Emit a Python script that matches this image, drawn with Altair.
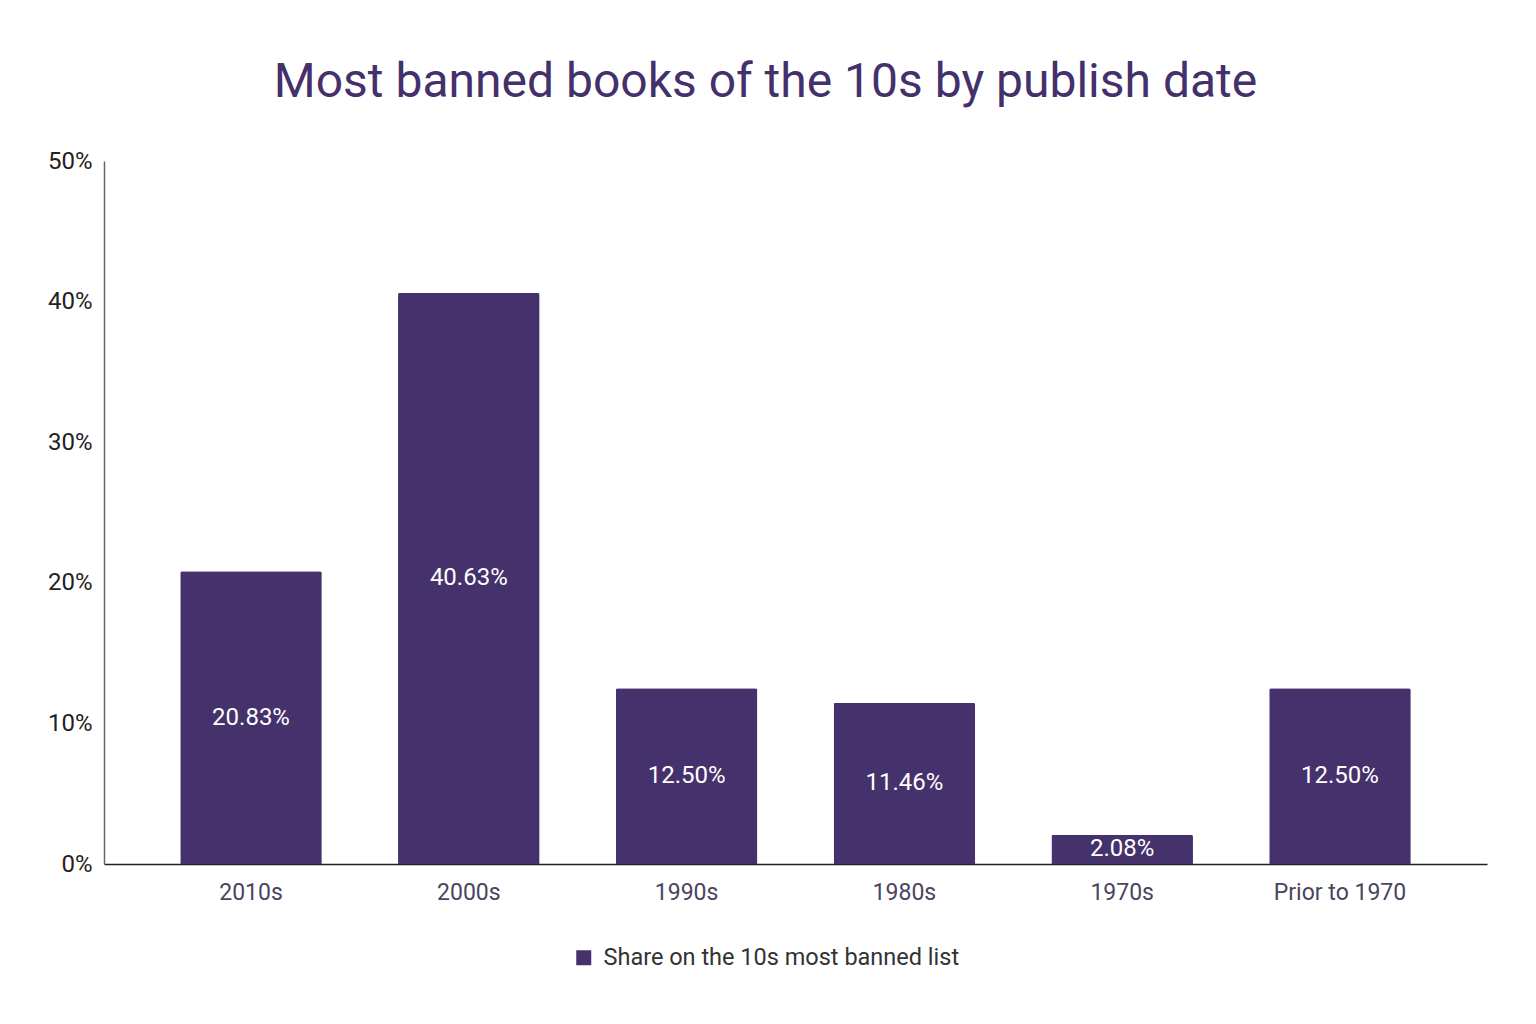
import altair as alt
import pandas as pd

categories = ["2010s", "2000s", "1990s", "1980s", "1970s", "Prior to 1970"]
shares = [0.2083, 0.4063, 0.1250, 0.1146, 0.0208, 0.1250]
labels = ["20.83%", "40.63%", "12.50%", "11.46%", "2.08%", "12.50%"]
series_name = "Share on the 10s most banned list"
y_ticks = [0, 0.1, 0.2, 0.3, 0.4, 0.5]

df = pd.DataFrame({
    "period": categories,
    "share": shares,
    "label": labels,
    "series": [series_name] * len(categories),
})
df["mid"] = df["share"] / 2

PURPLE = "#45316b"
FONT = "Roboto"

x = alt.X("period:N", sort=categories, title=None,
          scale=alt.Scale(paddingInner=0.35, paddingOuter=0.35),
          axis=alt.Axis(labelAngle=0, labelFontSize=23, labelColor="#4a4560",
                        labelFont=FONT, labelPadding=17, ticks=False,
                        domainColor="#222222", domainWidth=1.5, grid=False))

bars = alt.Chart(df).mark_bar(cornerRadiusTopLeft=2, cornerRadiusTopRight=2).encode(
    x=x,
    y=alt.Y("share:Q", title=None,
            scale=alt.Scale(domain=[0, 0.5], nice=False),
            axis=alt.Axis(values=y_ticks, format=".0%", labelFontSize=24,
                          labelColor="#222222", labelFont=FONT, ticks=False,
                          labelPadding=12, domainColor="#666666", domainWidth=1.5,
                          grid=False)),
    color=alt.Color("series:N", title=None,
                    scale=alt.Scale(range=[PURPLE]),
                    legend=alt.Legend(orient="none", legendX=468, legendY=785,
                                      symbolType="square", symbolSize=225,
                                      symbolStrokeWidth=0, labelFontSize=23.5,
                                      labelOffset=8,
                                      labelColor="#333333", labelFont=FONT,
                                      labelLimit=600)),
)

text = alt.Chart(df).mark_text(color="white", fontSize=24, font=FONT,
                               baseline="middle").encode(
    x=alt.X("period:N", sort=categories),
    y=alt.Y("mid:Q"),
    text="label:N",
)

chart = alt.layer(bars, text).properties(
    width=1383,
    height=703,
    title=alt.TitleParams("Most banned books of the 10s by publish date",
                          fontSize=48, font=FONT, fontWeight="normal",
                          color="#44306a", anchor="middle", frame="group",
                          dx=-30, offset=42),
    autosize=alt.AutoSizeParams(type="none"),
    padding={"left": 96, "top": 153, "right": 33, "bottom": 150},
    background="white",
).configure_view(strokeWidth=0, stroke="transparent")

chart.save("out.html", embed_options={"renderer": "svg", "actions": False})
